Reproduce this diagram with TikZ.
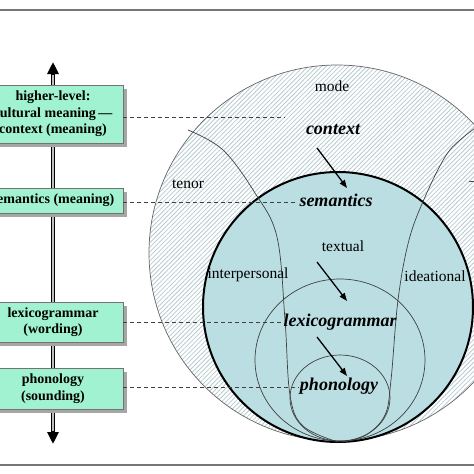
\documentclass[tikz,border=0pt]{standalone}
\usepackage{fontspec}
\setmainfont{Liberation Serif}
\usetikzlibrary{arrows.meta,patterns.meta,shadows}
\definecolor{boxfill}{HTML}{A0F2D0}
\definecolor{innerfill}{HTML}{BADEE2}
\definecolor{hatchc}{HTML}{B9CCD0}
\definecolor{framec}{HTML}{767676}
\begin{document}
\begin{tikzpicture}[x=1pt,y=-1pt,
  levelbox/.style={draw=black!55, fill=boxfill, line width=0.6pt, minimum width=140pt,
    align=center, inner sep=2pt, font=\fontsize{14}{16.5}\selectfont\bfseries,
    drop shadow={shadow xshift=4pt, shadow yshift=-4pt, fill=black!35, opacity=1}},
  biglabel/.style={font=\fontsize{18}{20}\selectfont\bfseries\itshape, inner sep=1pt},
  smalllabel/.style={font=\fontsize{15.5}{18}\selectfont, inner sep=1pt},
  dashline/.style={draw=black!75, line width=0.6pt, dash pattern=on 4pt off 3pt},
  innerarrow/.style={line width=1.3pt, -{Triangle[width=6pt,length=8pt]}},
  curveline/.style={draw=black!75, line width=0.7pt}
]
\useasboundingbox (0,0) rectangle (474,474);
\clip (0,0) rectangle (474,474);
\fill[white] (0,0) rectangle (474,474);
% frame lines
\draw[framec, line width=1.3pt] (-5,10) -- (480,10);
\draw[framec, line width=1.3pt] (-5,465) -- (480,465);
% outer hatched circle
\fill[white] (337,253) circle[radius=188];
\fill[pattern={Lines[angle=45,distance=3.2pt,line width=0.8pt]}, pattern color=hatchc] (337,253) circle[radius=188];
\draw[black!60, line width=0.7pt] (337,253) circle[radius=188];
% semantics circle
\filldraw[fill=innerfill, draw=black, line width=2pt] (338,307) circle[radius=135];
% lexicogrammar and phonology circles
\draw[curveline] (340,360) ellipse[x radius=85, y radius=81];
\draw[curveline] (340,398) ellipse[x radius=50, y radius=43];
% metafunction boundaries
\draw[curveline] plot[smooth, tension=0.6] coordinates {(188,130) (223,150) (255,193) (277,237) (285,320) (290,395) (303,426) (338,442)};
\draw[curveline] plot[smooth, tension=0.6] coordinates {(482,123) (460,140) (445,157) (425,197) (409,240) (398,300) (391,380) (385,415) (366,435) (342,442)};
% small dash at right edge
\draw[black!70, line width=0.6pt] (469,181) -- (480,181);
% vertical arrow
\coordinate (atop) at (53,62);
\coordinate (abot) at (53,444);
\draw[line width=3.6pt, {Triangle[width=11pt,length=12pt]}-{Triangle[width=11pt,length=12pt]}] (atop) -- (abot);
\draw[line width=1.1pt, black!25, shorten <=13pt, shorten >=13pt] (atop) -- (abot);
% boxes
\node[levelbox, minimum height=58pt] (b1) at (53,114) {higher-level:\\cultural meaning\,—\\context (meaning)};
\node[levelbox, minimum height=25pt] (b2) at (53,200.5) {semantics (meaning)};
\node[levelbox, minimum height=40pt] (b3) at (53,322) {lexicogrammar\\(wording)};
\node[levelbox, minimum height=41pt] (b4) at (53,388.5) {phonology\\(sounding)};
% labels
\node[smalllabel] (mode) at (332,86) {mode};
\node[biglabel] (ctx) at (333,130) {context};
\node[biglabel] (sem) at (336,200) {semantics};
\node[smalllabel] (tenor) at (188,184) {tenor};
\node[smalllabel] (textual) at (343,246) {textual};
\node[smalllabel] (interp) at (248,275) {interpersonal};
\node[smalllabel] (idea) at (435,276) {ideational};
\node[biglabel] (lexi) at (340,322) {lexicogrammar};
\node[biglabel] (phon) at (339,386) {phonology};
% dashed lines
\coordinate (d1) at (285,117);
\draw[dashline] (b1.east |- d1) -- (d1);
\draw[dashline] (b2.east |- 0,202) -- (sem.west |- 0,202);
\draw[dashline] (b3.east) -- (lexi.west);
\draw[dashline] (b4.east |- 0,387) -- (phon.west |- 0,387);
% inner arrows
\coordinate (a1s) at (317,148); \coordinate (a1e) at (347,188);
\coordinate (a2s) at (317,262); \coordinate (a2e) at (347,301);
\coordinate (a3s) at (317,337); \coordinate (a3e) at (347,376);
\draw[innerarrow] (a1s) -- (a1e);
\draw[innerarrow] (a2s) -- (a2e);
\draw[innerarrow] (a3s) -- (a3e);
\end{tikzpicture}
\end{document}
